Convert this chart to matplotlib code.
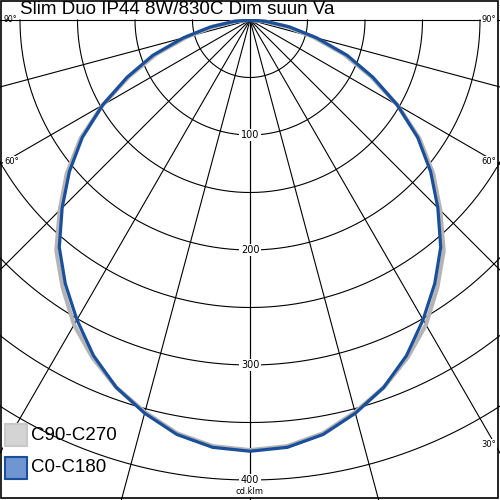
import numpy as np
import matplotlib
matplotlib.use("Agg")
import matplotlib.pyplot as plt
from matplotlib.patches import Rectangle

title = "Slim Duo IP44 8W/830C Dim suun Va"
angles = [0, 5, 10, 15, 20, 25, 30, 35, 40, 45, 50, 55, 60, 65, 70, 75, 80, 85, 90]
c0_c180 = [375, 373, 366, 354, 340, 322, 301, 280, 258, 231, 205, 178, 148, 118, 90, 60, 35, 14, 0]
c90_c270 = [374, 372, 365, 353, 340, 324, 306, 284, 262, 234, 208, 180, 148, 116, 87, 57, 32, 12, 0]
ring_values = [50, 100, 150, 200, 250, 300, 350, 400]
ring_labels = [100, 200, 300, 400]
spoke_angles = [15, 30, 45, 60, 75, 90]
edge_labels = [30, 60, 90]
legend_names = ["C90-C270", "C0-C180"]
unit = "cd.klm"

OX, OY, S = 250, 20, 1.15  # origin in px, px per cd

fig = plt.figure(figsize=(5, 5), dpi=100)
ax = fig.add_axes([0, 0, 1, 1])
ax.set_xlim(0, 500); ax.set_ylim(500, 0); ax.axis("off")

def pt(r, deg):
    t = np.radians(deg)
    return OX + S * np.asarray(r) * np.sin(t), OY + S * np.asarray(r) * np.cos(t)

th = np.linspace(-90, 90, 400)
for rv in ring_values:
    x, y = pt(np.full_like(th, rv), th)
    ax.plot(x, y, color="black", lw=0.8, zorder=1)
for a in [0] + spoke_angles:
    for sgn in (1, -1):
        x, y = pt([0, 700], [sgn * a, sgn * a])
        ax.plot(x, y, color="black", lw=0.8, zorder=1)

def full(vals):
    a = np.array(angles, float); v = np.array(vals, float)
    return np.concatenate([-a[::-1], a[1:]]), np.concatenate([v[::-1], v[1:]])
a, v = full(c90_c270)
x, y = pt(v, a)
ax.plot(x, y, color="#b4b4b4", lw=3, zorder=3, solid_joinstyle="round")
a, v = full(c0_c180)
x, y = pt(v, a)
ax.plot(x, y, color="#1a4f9c", lw=2.3, zorder=4, solid_joinstyle="round")

for rv in ring_labels:
    ax.text(OX, OY + S * rv, str(rv), ha="center", va="center", fontsize=7,
            zorder=5, bbox=dict(facecolor="white", edgecolor="none", pad=1))
for e in edge_labels:
    t = np.radians(e)
    yy = OY + 245 / np.tan(t) if e < 90 else OY
    ax.text(496, yy, f"{e}°", ha="right", va="center", fontsize=6, zorder=5,
            bbox=dict(facecolor="white", edgecolor="none", pad=0.5))
    if e < 90:
        ax.text(4, yy, f"{e}°", ha="left", va="center", fontsize=6, zorder=5,
                bbox=dict(facecolor="white", edgecolor="none", pad=0.5))

ax.text(OX, 492, unit, ha="center", va="center", fontsize=6, zorder=5,
        bbox=dict(facecolor="white", edgecolor="none", pad=0.5))
ax.text(20, 10, title, ha="left", va="center", fontsize=13.5, zorder=6,
        family="Liberation Sans",
        bbox=dict(facecolor="white", edgecolor="none", pad=0.5))
ax.text(3, 19, "90°", ha="left", va="center", fontsize=5.5, zorder=5)

ax.add_patch(Rectangle((5, 424), 22, 22, facecolor="#d4d4d4", edgecolor="#c8c8c8", lw=1.5, zorder=6))
ax.text(31, 435, legend_names[0], ha="left", va="center", fontsize=13.5,
        family="Liberation Sans", zorder=6)
ax.add_patch(Rectangle((5, 457), 22, 22, facecolor="#7096d2", edgecolor="#1a4f9c", lw=1.5, zorder=6))
ax.text(31, 468, legend_names[1], ha="left", va="center", fontsize=13.5,
        family="Liberation Sans", zorder=6)

ax.add_patch(Rectangle((1, 1), 497, 497, fill=False, edgecolor="black", lw=1.2, zorder=7))
fig.savefig("out.png", dpi=100)
